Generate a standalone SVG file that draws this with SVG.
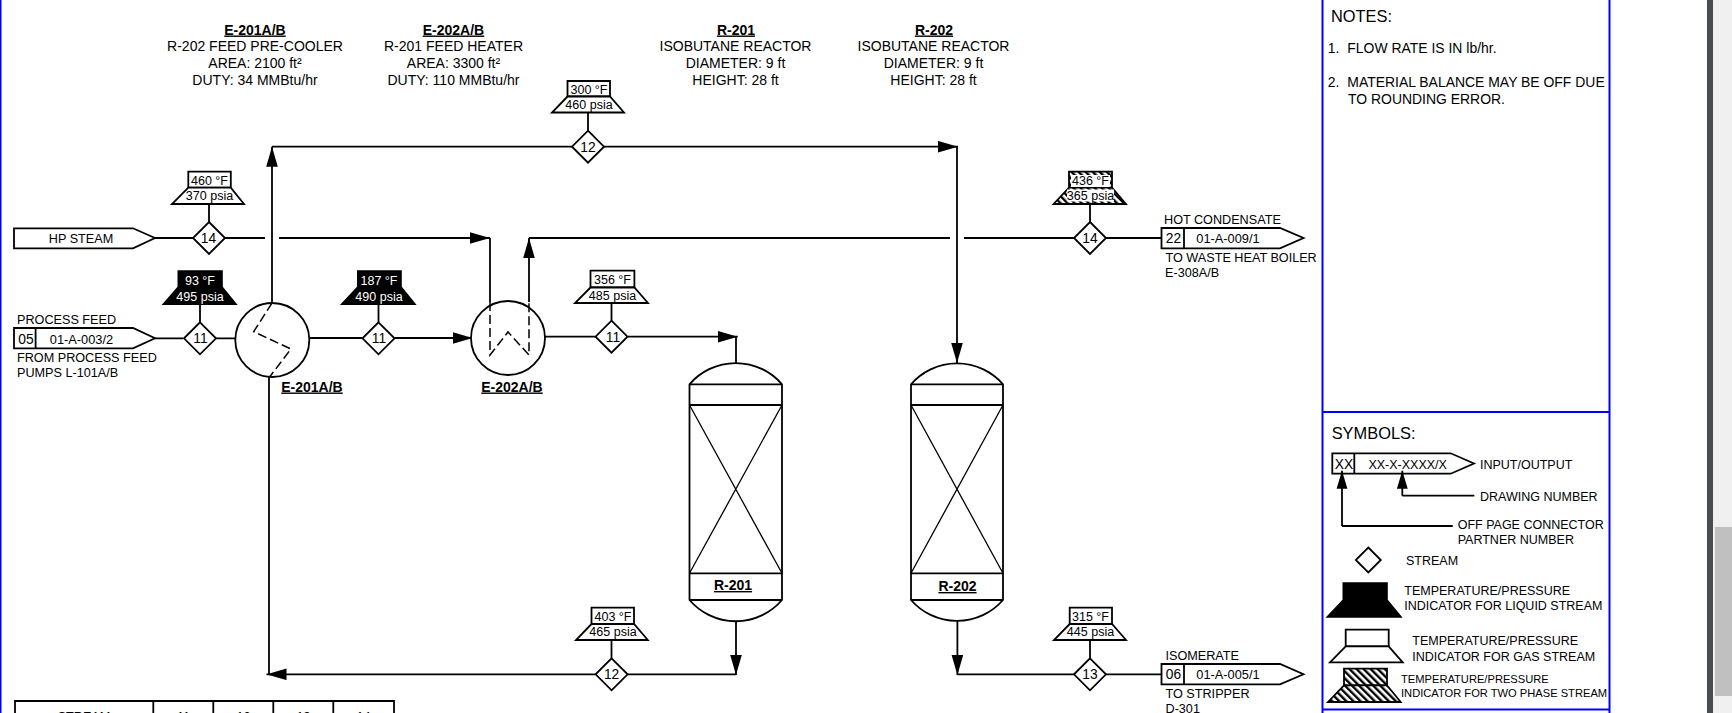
<svg xmlns="http://www.w3.org/2000/svg" width="1732" height="713" viewBox="0 0 1732 713">
<style>
text{font-family:"Liberation Sans",Arial,sans-serif;fill:#000;font-size:14px}
.c{text-anchor:middle}
.b{font-weight:700;text-decoration:underline}
.n{font-size:12.65px}
.s{font-size:12.5px}
.m{font-size:12.8px}
.k{font-size:13.8px}
.t{font-size:13.95px}
.h{font-size:16.4px}
.f{font-size:11.15px}
.w{fill:#fff}
.ln{fill:none;stroke:#000;stroke-width:1.8}
.sh{fill:#fff;stroke:#000;stroke-width:1.8}
.bk{fill:#000;stroke:#000;stroke-width:1.6}
.ht{fill:url(#hatch);stroke:#000;stroke-width:1.8}
.th{fill:none;stroke:#000;stroke-width:1.3}
.da{fill:none;stroke:#000;stroke-width:1.5;stroke-dasharray:9 4}
.bl{stroke:#0000ff;stroke-width:2;fill:none}
.ar{marker-end:url(#a)}
.as{marker-end:url(#a2)}
</style>
<defs>
<marker id="a" markerUnits="userSpaceOnUse" markerWidth="20" markerHeight="12" refX="20" refY="6" orient="auto"><path d="M0 0.2L20 6L0 11.8Z" fill="#000"/></marker>
<marker id="a2" markerUnits="userSpaceOnUse" markerWidth="18" markerHeight="12" refX="18" refY="6" orient="auto"><path d="M0 0.6L18 6L0 11.4Z" fill="#000"/></marker>
<pattern id="hatch" width="5" height="5" patternUnits="userSpaceOnUse" patternTransform="rotate(-45)"><rect width="5" height="5" fill="#fff"/><rect width="2.4" height="5" fill="#000"/></pattern>
<path id="d" d="M0-16L16 0L0 16L-16 0Z" class="sh"/>
</defs>
<rect width="1732" height="713" fill="#fff"/>
<g id="frame">
<path class="bl" d="M0.5 0V713M1322.5 0V713M1609.5 0V713M1322.5 412H1609.5M1322.5 709.5H1609.5"/>
</g>
<g id="scrollbar">
<rect x="1707" y="0" width="6" height="713" fill="#4a4d4f"/>
<rect x="1713" y="0" width="19" height="713" fill="#f0f0f0"/>
<rect x="1715" y="527" width="17" height="169" fill="#c0c0c0"/>
</g>
<g id="connectors">
<path class="ln ar" d="M272 303V146.7"/>
<path class="ln" d="M272 146.7H572"/>
<path class="ln ar" d="M604 146.7H958"/>
<path class="ln ar" d="M957 146.7V363"/>
<path class="ln" d="M155 238H193M224 238H265"/>
<path class="ln ar" d="M279 238H490"/>
<path class="ln" d="M490 238V302"/>
<path class="ln ar" d="M529 302V238"/>
<path class="ln" d="M529 238H950M964 238H1074M1106 238H1161.5"/>
<path class="ln" d="M155 338.3H183M216 338.3H235.5M309 338H362"/>
<path class="ln ar" d="M395 338H472.6"/>
<path class="ln" d="M544.6 336.7H595"/>
<path class="ln ar" d="M628 336.7H737.7"/>
<path class="ln" d="M736 336.7V363"/>
<path class="ln ar" d="M736 621V675"/>
<path class="ln" d="M736 674.3H628"/>
<path class="ln ar" d="M595 674.3H266.5"/>
<path class="ln" d="M269 377V674.3"/>
<path class="ln ar" d="M957.4 621V675"/>
<path class="ln" d="M957.4 674.3H1074M1106 674.3H1161.5"/>
<path class="ln" d="M209 204V222M200 304V322M378.5 304V322M611.5 303V320.7M588 112.5V130M1090 204V222M611.5 640V658M1090 640V658"/>
</g>
<g id="headers">
<text class="c b" x="255" y="34.5">E-201A/B</text>
<text class="c" x="255" y="51">R-202 FEED PRE-COOLER</text>
<text class="c" x="255" y="68">AREA: 2100 ft²</text>
<text class="c" x="255" y="84.5">DUTY: 34 MMBtu/hr</text>
<text class="c b" x="453.5" y="34.5">E-202A/B</text>
<text class="c" x="453.5" y="51">R-201 FEED HEATER</text>
<text class="c" x="453.5" y="68">AREA: 3300 ft²</text>
<text class="c" x="453.5" y="84.5">DUTY: 110 MMBtu/hr</text>
<text class="c b" x="736" y="34.5">R-201</text>
<text class="c" x="735.5" y="51">ISOBUTANE REACTOR</text>
<text class="c" x="735.5" y="68">DIAMETER: 9 ft</text>
<text class="c" x="735.5" y="84.5">HEIGHT: 28 ft</text>
<text class="c b" x="934" y="34.5">R-202</text>
<text class="c" x="933.5" y="51">ISOBUTANE REACTOR</text>
<text class="c" x="933.5" y="68">DIAMETER: 9 ft</text>
<text class="c" x="933.5" y="84.5">HEIGHT: 28 ft</text>
</g>
<g id="hp-steam">
<path class="sh" d="M14 228.3H133L155 238L133 248.3H14Z"/>
<text class="c n" x="81" y="243">HP STEAM</text>
</g>
<g id="process-feed">
<path class="sh" d="M14 328H133L155 338.3L133 348.3H14Z"/>
<path class="ln" d="M35.6 328V348.3"/>
<text class="c k" x="26" y="343.5">05</text>
<text class="c m" x="81.5" y="343.5">01-A-003/2</text>
<text class="n" x="17" y="324">PROCESS FEED</text>
<text class="n" x="17" y="362">FROM PROCESS FEED</text>
<text class="n" x="17" y="377">PUMPS L-101A/B</text>
</g>
<g id="hot-condensate">
<path class="sh" d="M1161.5 228H1280L1303.5 238L1280 248.3H1161.5Z"/>
<path class="ln" d="M1184 228V248.3"/>
<text class="c k" x="1173.5" y="243">22</text>
<text class="c m" x="1228" y="243">01-A-009/1</text>
<text class="n" x="1164" y="224">HOT CONDENSATE</text>
<text class="n" x="1165.5" y="262">TO WASTE HEAT BOILER</text>
<text class="n" x="1165" y="277">E-308A/B</text>
</g>
<g id="isomerate">
<path class="sh" d="M1161.5 664H1280L1303.5 674.3L1280 684.3H1161.5Z"/>
<path class="ln" d="M1184 664V684.3"/>
<text class="c k" x="1173.5" y="679">06</text>
<text class="c m" x="1228" y="679">01-A-005/1</text>
<text class="n" x="1165.5" y="660">ISOMERATE</text>
<text class="n" x="1165.5" y="698">TO STRIPPER</text>
<text class="n" x="1165.5" y="712.5">D-301</text>
</g>
<g id="E-201">
<circle class="sh" cx="272.3" cy="340" r="37"/>
<path class="da" d="M272 303L253.7 331.7L290.9 349L269.8 376.7"/>
<text class="c b" x="312" y="391.5">E-201A/B</text>
</g>
<g id="E-202">
<circle class="sh" cx="508" cy="338" r="37"/>
<path class="da" d="M490 302V355L508 332L529 355V302"/>
<text class="c b" x="512" y="391.5">E-202A/B</text>
</g>
<g id="R-201">
<path class="sh" d="M689.5 384.3A61 61 0 0 1 782 384.3V600A61 61 0 0 1 689.5 600Z"/>
<path class="ln" d="M689.5 384.3H782M689.5 405H782M689.5 573.3H782M689.5 600H782"/>
<path class="th" d="M689.5 405L782 573.3M782 405L689.5 573.3"/>
<text class="c b" x="733" y="590">R-201</text>
</g>
<g id="R-202">
<path class="sh" d="M911 384.3A61 61 0 0 1 1003 384.3V600A61 61 0 0 1 911 600Z"/>
<path class="ln" d="M911 384.3H1003M911 405H1003M911 573.3H1003M911 600H1003"/>
<path class="th" d="M911 405L1003 573.3M1003 405L911 573.3"/>
<text class="c b" x="957.5" y="591">R-202</text>
</g>
<g id="stream-14a"><use href="#d" x="209" y="238"/><text class="c k" x="208.5" y="243">14</text></g>
<g id="stream-11a"><use href="#d" x="200" y="338.3"/><text class="c k" x="200.5" y="343.3">11</text></g>
<g id="stream-11b"><use href="#d" x="378.5" y="338.3"/><text class="c k" x="379" y="343.3">11</text></g>
<g id="stream-11c"><use href="#d" x="611.5" y="336.7"/><text class="c k" x="613" y="341.7">11</text></g>
<g id="stream-12a"><use href="#d" x="588" y="146.7"/><text class="c k" x="588" y="151.7">12</text></g>
<g id="stream-14b"><use href="#d" x="1090" y="238"/><text class="c k" x="1090" y="243">14</text></g>
<g id="stream-12b"><use href="#d" x="611.6" y="674.3"/><text class="c k" x="611.6" y="679">12</text></g>
<g id="stream-13"><use href="#d" x="1090" y="674.3"/><text class="c k" x="1090" y="679">13</text></g>
<g id="tp-460">
<path class="sh" d="M188.3 171.7H230.8V187.7H188.3Z"/><path class="sh" d="M188.3 187.7H230.8L244 204H172Z"/>
<text class="c s" x="209.5" y="185">460 °F</text><text class="c s" x="209.5" y="200">370 psia</text>
</g>
<g id="tp-93">
<path class="bk" d="M178.3 271H222V287L236 304.3H163.4L178.3 287Z"/>
<text class="c s w" x="200" y="285">93 °F</text><text class="c s w" x="200" y="301">495 psia</text>
</g>
<g id="tp-187">
<path class="bk" d="M357.8 271H401V287L415 304.3H341.7L357.8 287Z"/>
<text class="c s w" x="379" y="285">187 °F</text><text class="c s w" x="379" y="301">490 psia</text>
</g>
<g id="tp-356">
<path class="sh" d="M590.5 270.7H634.4V287.5H590.5Z"/><path class="sh" d="M590.5 287.5H634.4L648 303H575Z"/>
<text class="c s" x="612.5" y="284">356 °F</text><text class="c s" x="612.5" y="299.5">485 psia</text>
</g>
<g id="tp-300">
<path class="sh" d="M567.5 81H610V96.5H567.5Z"/><path class="sh" d="M567.5 96.5H610L624 112.5H552Z"/>
<text class="c s" x="589" y="94">300 °F</text><text class="c s" x="589" y="109">460 psia</text>
</g>
<g id="tp-436">
<path class="ht" d="M1069 171.7H1112V187.7H1069Z"/><path class="ht" d="M1069 187.7H1112L1126 204H1053.6Z"/>
<rect x="1071" y="175" width="39" height="12" fill="#fff"/>
<rect x="1067" y="189.5" width="47" height="12" fill="#fff"/>
<text class="c s" x="1090.5" y="185">436 °F</text><text class="c s" x="1090.5" y="200">365 psia</text>
</g>
<g id="tp-403">
<path class="sh" d="M591.5 607.7H634V624H591.5Z"/><path class="sh" d="M591.5 624H634L647.8 640H576Z"/>
<text class="c s" x="613" y="621">403 °F</text><text class="c s" x="613" y="636">465 psia</text>
</g>
<g id="tp-315">
<path class="sh" d="M1069.7 607.7H1112V624H1069.7Z"/><path class="sh" d="M1069.7 624H1112L1126 640H1054Z"/>
<text class="c s" x="1090.5" y="621">315 °F</text><text class="c s" x="1090.5" y="636">445 psia</text>
</g>
<g id="table">
<path class="ln" d="M15 713V701H394V713M153.3 701V713M213.3 701V713M273.3 701V713M333.3 701V713"/>
<text class="c n" x="84" y="721">STREAM</text>
<text class="c n" x="183.5" y="721">11</text>
<text class="c n" x="243.5" y="721">12</text>
<text class="c n" x="303.5" y="721">13</text>
<text class="c n" x="363.5" y="721">14</text>
</g>
<g id="notes">
<text x="1331" y="22" class="h">NOTES:</text>
<text x="1327.7" y="53.3" class="t">1.</text>
<text x="1347.3" y="53.3" class="t">FLOW RATE IS IN lb/hr.</text>
<text x="1327.7" y="86.7" class="t">2.</text>
<text x="1347.3" y="86.7" class="t">MATERIAL BALANCE MAY BE OFF DUE</text>
<text x="1348" y="103.5" class="t">TO ROUNDING ERROR.</text>
</g>
<g id="symbols">
<text x="1331.7" y="439.3" class="h">SYMBOLS:</text>
<path class="sh" d="M1332.3 453.3H1450.7L1474 463.5L1450.7 473.7H1332.3Z"/>
<path class="ln" d="M1354.3 453.3V473.7"/>
<text class="c k" x="1344" y="469.3">XX</text>
<text class="c s" x="1407.7" y="469.3">XX-X-XXXX/X</text>
<text class="s" x="1480" y="469.3">INPUT/OUTPUT</text>
<path class="ln as" d="M1342 526V470.7"/>
<path class="ln as" d="M1402.3 495.7V470.7"/>
<path class="ln" d="M1342 526H1452.7M1402.3 495.7H1474.3"/>
<text class="s" x="1480" y="501">DRAWING NUMBER</text>
<text class="s" x="1457.7" y="529.3">OFF PAGE CONNECTOR</text>
<text class="s" x="1457.7" y="544">PARTNER NUMBER</text>
<path class="sh" d="M1368.3 547.5L1380.8 560L1368.3 572.5L1355.8 560Z"/>
<text class="s" x="1406" y="565.3">STREAM</text>
<path class="bk" d="M1343.3 583H1387V600L1401 617H1327.3L1343.3 600Z"/>
<text class="s" x="1404.3" y="595">TEMPERATURE/PRESSURE</text>
<text class="s" x="1404.3" y="610.3">INDICATOR FOR LIQUID STREAM</text>
<path class="sh" d="M1345.7 629.7H1388.7V646.3H1345.7Z"/><path class="sh" d="M1345.7 646.3H1388.7L1402.7 662.3H1330Z"/>
<text class="s" x="1412.3" y="645">TEMPERATURE/PRESSURE</text>
<text class="s" x="1412.3" y="660.7">INDICATOR FOR GAS STREAM</text>
<path class="ht" d="M1344 668.7H1387V685.3H1344Z"/><path class="ht" d="M1344 685.3H1387L1400.7 702H1328Z"/>
<text class="f" x="1401" y="683.3">TEMPERATURE/PRESSURE</text>
<text class="f" x="1401" y="696.7">INDICATOR FOR TWO PHASE STREAM</text>
</g>
</svg>
